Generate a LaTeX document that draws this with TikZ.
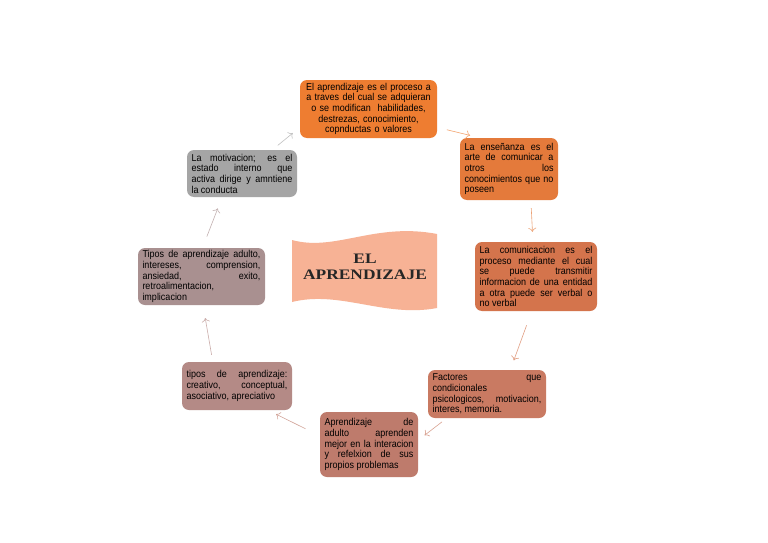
\documentclass[tikz,border=0pt]{standalone}
\usepackage{fontspec}
\setmainfont{Liberation Sans}[FakeStretch=0.9]
\newfontfamily\titulofont{Liberation Serif}[FakeStretch=1.2]
\usetikzlibrary{calc,arrows.meta}
\hyphenpenalty=10000
\exhyphenpenalty=10000
\tolerance=10000
\hbadness=10000
\hfuzz=20pt

\definecolor{naranjaA}{HTML}{EE7D31}
\definecolor{naranjaB}{HTML}{E47A3B}
\definecolor{naranjaC}{HTML}{D4744C}
\definecolor{salmonA}{HTML}{C97A62}
\definecolor{salmonB}{HTML}{BE7B6C}
\definecolor{rosaA}{HTML}{B48A86}
\definecolor{rosaB}{HTML}{A99090}
\definecolor{grisA}{HTML}{A5A5A5}
\definecolor{banderin}{HTML}{F7B295}

\begin{document}
\begin{tikzpicture}[x=1pt,y=-1pt,
    caja/.style={rounded corners=7pt, inner xsep=4.5pt, inner ysep=2pt,
        align=justify, font=\fontsize{10}{10.7}\selectfont},
    flecha/.style={-{To[length=4pt,width=8pt]}, line width=0.6pt, draw=#1!70}]
    \useasboundingbox[fill=white] (0,0) rectangle (768,543);

    % cajas del ciclo
    \node[caja, fill=naranjaA, align=center, text width=128pt, minimum height=58pt]
        (proceso) at (368.5,109) {El aprendizaje es el proceso a\\
        a traves del cual se adquieran\\ o se modifican \ habilidades,\\
        destrezas, conocimiento,\\ copnductas o valores};
    \node[caja, fill=naranjaB, text width=89pt, minimum height=62pt]
        (ensenanza) at (509,169) {La enseñanza es el \linebreak arte de comunicar a
        \linebreak otros los \linebreak conocimientos que no \linebreak poseen};
    \node[caja, fill=naranjaC, text width=113pt, minimum height=69pt]
        (comunicacion) at (536,276.5) {La comunicacion es el \linebreak proceso
        mediante el cual \linebreak se puede transmitir \linebreak informacion de una
        entidad \linebreak a otra puede ser verbal o \linebreak no verbal};
    \node[caja, fill=salmonA, text width=109pt, minimum height=48pt]
        (factores) at (487,394) {Factores que \linebreak condicionales \linebreak
        psicologicos, motivacion, \linebreak interes, memoria.};
    \node[caja, fill=salmonB, text width=89pt, minimum height=65pt]
        (adulto) at (369,444.5) {Aprendizaje de \linebreak adulto aprenden
        \linebreak mejor en la interacion \linebreak y refelxion de sus \linebreak
        propios problemas};
    \node[caja, fill=rosaA, text width=101pt, minimum height=48pt]
        (tipos) at (237,386) {tipos de aprendizaje: \linebreak creativo,
        conceptual, \linebreak asociativo, apreciativo};
    \node[caja, fill=rosaB, text width=118pt, minimum height=57pt]
        (tiposadulto) at (201.5,276.5) {Tipos de aprendizaje adulto, \linebreak
        intereses, comprension, \linebreak ansiedad, exito, \linebreak
        retroalimentacion, \linebreak implicacion};
    \node[caja, fill=grisA, text width=101pt, minimum height=47pt]
        (motivacion) at (242,173.5) {La motivacion; es el \linebreak estado interno
        que \linebreak activa dirige y amntiene \linebreak la conducta};

    % banderin central
    \fill[banderin] (292,240) .. controls (335,252) and (375,222) .. (437,234)
        -- (437,308) .. controls (385,318) and (340,290) .. (292,302) -- cycle;
    \node[font=\titulofont\bfseries\fontsize{14.5}{16}\selectfont, text=black!85,
        align=center] (titulo) at (365,267) {EL\\APRENDIZAJE};

    % flechas
    \draw[flecha=grisA, shorten <=7pt, shorten >=9pt] (motivacion.38) -- (proceso.195);
    \draw[flecha=naranjaA, shorten <=10pt, shorten >=10pt] (proceso.-15) -- (ensenanza.133);
    \draw[flecha=naranjaB, shorten <=8pt, shorten >=10pt] (ensenanza.-55) -- (comunicacion.95);
    \draw[flecha=naranjaC, shorten <=15pt, shorten >=10pt] (comunicacion.263) -- (factores.46);
    \draw[flecha=salmonA, shorten <=6pt, shorten >=8pt] (factores.211) -- (adulto.5);
    \draw[flecha=salmonB, shorten <=16pt, shorten >=9pt] (adulto.170) -- (tipos.-38);
    \draw[flecha=rosaA, shorten <=7pt, shorten >=13pt] (tipos.135) -- (tiposadulto.-87);
    \draw[flecha=rosaB, shorten <=12pt, shorten >=12pt] (tiposadulto.88) -- (motivacion.230);
\end{tikzpicture}
\end{document}
